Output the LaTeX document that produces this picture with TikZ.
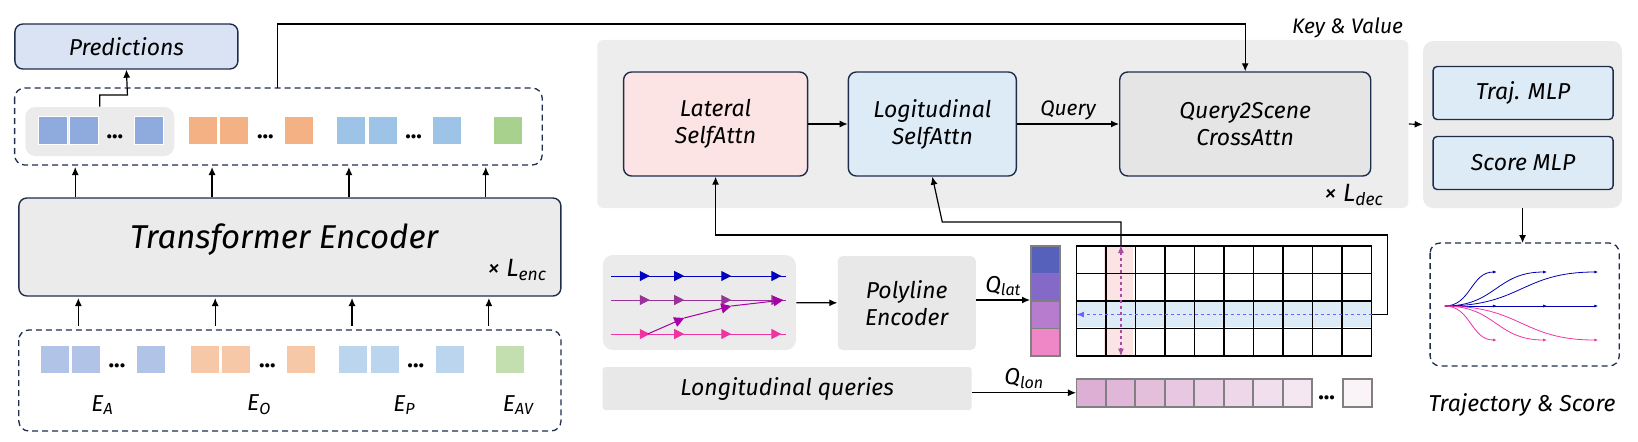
\documentclass[tikz,border=0pt]{standalone}
\usepackage{fontspec}
\setmainfont{Fira Sans}
\usetikzlibrary{positioning}
\usetikzlibrary{arrows.meta}
\usetikzlibrary{calc}
\definecolor{navy}{HTML}{1F2D4D}
\definecolor{lblue}{HTML}{DAE3F3}
\definecolor{cA}{HTML}{8FAADC}
\definecolor{cO}{HTML}{F4B183}
\definecolor{cP}{HTML}{9DC3E6}
\definecolor{cV}{HTML}{A9D18E}
\definecolor{pinkbg}{HTML}{FCE4E4}
\definecolor{bluebg}{HTML}{DDEBF7}
\definecolor{lonq}{HTML}{D9A6CF}
\newcommand{\sbs}[2]{#1\textsubscript{#2}}
\begin{document}
\begin{tikzpicture}[x=1.0446pt,y=-1pt,
  every node/.style={font=\fontsize{23}{27}\selectfont\itshape},
  every path/.style={thick},
  block/.style={draw=navy,rounded corners=8pt,line width=1.4pt,inner sep=0},
  dashbox/.style={draw=navy,dashed,rounded corners=10pt,line width=1.3pt,dash pattern=on 6pt off 4pt},
  greybg/.style={fill=black!8,rounded corners=10pt,draw=none},
  sq/.style={minimum width=29pt,minimum height=28pt,inner sep=0,draw=white,line width=1pt},
  cell/.style={minimum width=29.5pt,minimum height=27.5pt,inner sep=0,draw=black,line width=1.5pt},
  ar/.style={-{Latex[length=8pt,width=7pt]},line width=1.2pt},
  mk/.style={-{Triangle[length=10pt,width=10pt]},line width=1pt},
  dots/.style={font=\fontsize{23}{23}\selectfont\bfseries,inner sep=0}
  ]
  \useasboundingbox (0,0) rectangle (1568,441);
  % encoder side
  \node[block,fill=lblue,minimum width=223pt,minimum height=45pt] (pred) at (121,46.5) {Predictions};
  \draw[dashbox] (14,88) rectangle (519,165);
  \node[greybg,minimum width=149pt,minimum height=49pt] (sel) at (95.5,131.5) {};
  \node[block,fill=black!8,minimum width=542pt,minimum height=98pt] (enc) at (277.5,247) {};
  \node[font=\fontsize{33}{37}\selectfont\itshape] (enclbl) at (272,240) {Transformer Encoder};
  \node[font=\fontsize{25}{29}\selectfont\itshape] (Lenc) at (495,270) {× \sbs{L}{enc}};
  \draw[dashbox] (18,330) rectangle (537,431);
  \foreach \c/\x [count=\i] in {cA/36,cO/180,cP/322}{
    \node[sq,fill=\c,anchor=north west] (top\i a) at (\x,116) {};
    \node[sq,fill=\c,anchor=north west] (top\i b) at (\x+30,116) {};
    \node[dots] (top\i d) at (\x+74,137) {...};
    \node[sq,fill=\c,anchor=north west] (top\i c) at (\x+92,116) {};
    \node[sq,fill=\c!70,anchor=north west] (bot\i a) at (\x+2,345) {};
    \node[sq,fill=\c!70,anchor=north west] (bot\i b) at (\x+32,345) {};
    \node[dots] (bot\i d) at (\x+76,366) {...};
    \node[sq,fill=\c!70,anchor=north west] (bot\i c) at (\x+94,345) {};
  }
  \node[sq,fill=cV,anchor=north west] (top4) at (472,116) {};
  \node[sq,fill=cV!70,anchor=north west] (bot4) at (474,345) {};
  \node (EA) at (98,405) {\sbs{E}{A}};
  \node (EO) at (248,405) {\sbs{E}{O}};
  \node (EP) at (387,405) {\sbs{E}{P}};
  \node (EAV) at (496,405) {\sbs{E}{AV}};
  \foreach \x in {72,203,334,465}{
    \draw[ar] (\x,197) -- (\x,167);
    \draw[ar] (\x+3,326) -- (\x+3,298);
  }
  \draw[ar] (sel.north) |- (122,95) -- (pred.south);
  % decoder
  \node[greybg,fill=black!7,minimum width=811pt,minimum height=168pt,rounded corners=6pt] (dec) at (960,124) {};
  \node[block,fill=pinkbg,minimum width=184pt,minimum height=104pt,align=center] (lat) at (685,124) {Lateral\\SelfAttn};
  \node[block,fill=bluebg,minimum width=168pt,minimum height=104pt,align=center] (lon) at (892.5,124) {Logitudinal\\SelfAttn};
  \node[block,fill=black!10,minimum width=251pt,minimum height=104pt,align=center] (q2s) at (1192,124) {Query2Scene\\CrossAttn};
  \node[font=\fontsize{25}{29}\selectfont\itshape] (Ldec) at (1296,195) {× \sbs{L}{dec}};
  \draw[ar] (lat) -- (lon);
  \draw[ar] (lon) -- node[above,font=\fontsize{21}{25}\selectfont\itshape] (qlbl) {Query} (q2s);
  \draw[ar] (266,88) -- (266,24) -| (q2s.north);
  \node[font=\fontsize{21}{25}\selectfont\itshape] (kv) at (1290,28) {Key \& Value};
  % heads
  \node[greybg,minimum width=199pt,minimum height=167pt] (heads) at (1457.5,124.5) {};
  \node[block,fill=bluebg,minimum width=180pt,minimum height=53pt,rounded corners=4pt] (traj) at (1458,93) {Traj. MLP};
  \node[block,fill=bluebg,minimum width=180pt,minimum height=53pt,rounded corners=4pt] (score) at (1458,163) {Score MLP};
  \draw[ar] (dec.east) -- (heads.west);
  \draw[dashbox] (1369,243) rectangle (1550,366);
  \coordinate (ts) at (1457.5,243);
  \draw[ar] (heads.south) -- (ts);
  \node (tslbl) at (1457,405) {Trajectory \& Score};
  \coordinate (o) at (1383,306);
  \foreach \ex/\ey/\c in {1433/272/blue!70!black,1481/272/blue!70!black,1530/272/blue!70!black,1433/306/blue!70!black,1481/306/blue!70!black,1530/306/blue!70!black,1433/340/magenta!80,1481/340/magenta!80,1530/340/magenta!80}{
    \pgfmathsetmacro\mx{(1383+\ex)/2}
    \draw[line width=0.8pt,\c,-{Latex[length=4pt,width=3pt]}] (o) .. controls (\mx,306) and (\mx,\ey) .. (\ex,\ey);
  }
  % map and queries
  \node[greybg,minimum width=193pt,minimum height=95pt] (map) at (669.5,302.5) {};
  \foreach \y/\c in {276/blue!75!black,300/violet!80,334/magenta!80}{
    \draw[line width=1pt,\c] (585,\y) -- (752,\y);
    \foreach \x in {622,655,700,748}
      \draw[mk,\c] (\x-10,\y) -- (\x,\y);
  }
  \draw[violet!70!magenta,mk] (620,334) -- (655,318);
  \draw[violet!70!magenta,mk] (655,318) -- (700,306);
  \draw[violet!70!magenta,mk] (700,306) -- (750,300);
  \node[greybg,fill=black!9,minimum width=138pt,minimum height=94pt,align=center,rounded corners=5pt] (poly) at (868,303) {Polyline\\Encoder};
  \draw[ar] (map) -- (poly);
  \node[greybg,fill=black!9,minimum width=369pt,minimum height=43pt,rounded corners=3pt] (lonq) at (753.5,388.5) {Longitudinal queries};
  % lateral query column
  \foreach \c [count=\i] in {5661BB,8569C9,B87CCF,EF86C5}{
    \definecolor{qc}{HTML}{\c}
    \node[sq,fill=qc,draw=gray,line width=1.5pt,minimum height=27.5pt,anchor=north west] (ql\i) at (986,245+27.5*\i-27.5) {};
  }
  \draw[ar] (poly.east|-ql3.north) -- node[above] (qlat) {\sbs{Q}{lat}} (ql3.north west);
  % grid
  \fill[pinkbg] (1057,245) rectangle (1085,355);
  \fill[bluebg] (1030,300) rectangle (1312,327);
  \foreach \i in {0,...,9}
    \foreach \j in {0,...,3}
      \node[cell,fill=none,anchor=north west] (g\i\j) at (1030+28.2*\i,245+27.5*\j) {};
  \draw[violet!70,dashed,line width=1.3pt,{Latex[length=8pt]}-{Latex[length=8pt]}] (g10.north) -- (g13.south);
  \draw[blue!60,dashed,line width=1.3pt,-{Latex[length=8pt]}] (g92.east) -- (g02.west);
  \draw[ar] (g10.north) |- (902,222) -- (lon.south);
  \draw[ar] (g92.east) -| (1328,235) -| (lat.south);
  % longitudinal query row
  \foreach \i in {0,...,7}{
    \pgfmathsetmacro\op{90-9*\i}
    \node[sq,fill=lonq!\op!white,draw=gray,line width=1.5pt,anchor=north west] (lq\i) at (1030+28.2*\i,378) {};
  }
  \node[dots] (lqd) at (1270,398) {...};
  \node[sq,fill=lonq!12!white,draw=gray,line width=1.5pt,anchor=north west] (lq8) at (1285,378) {};
  \draw[ar] (lonq.east|-lq0.west) -- node[above] (qlon) {\sbs{Q}{lon}} (lq0.west);
\end{tikzpicture}
\end{document}
